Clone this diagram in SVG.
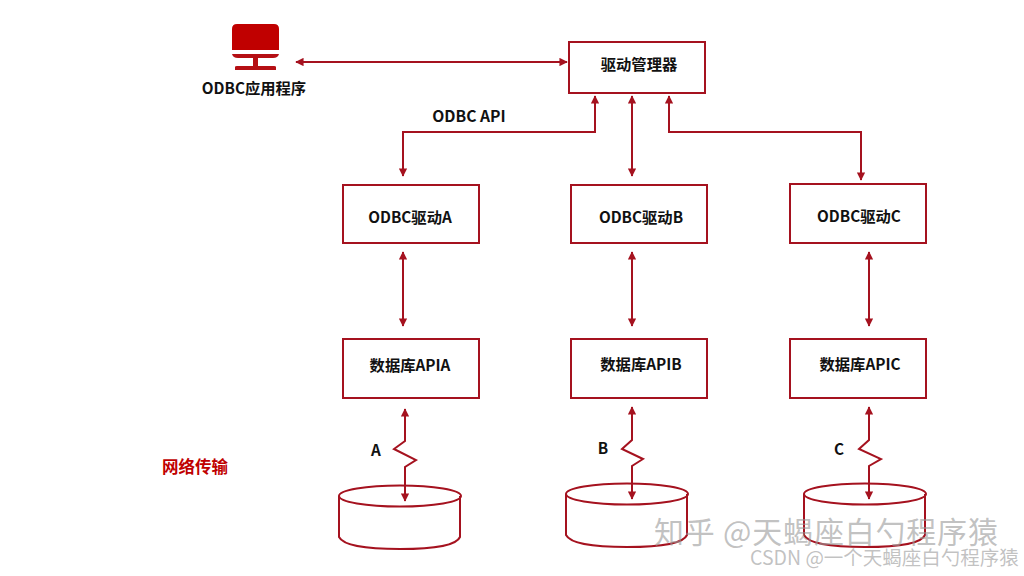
<svg xmlns="http://www.w3.org/2000/svg" width="1024" height="576" viewBox="0 0 1024 576">
<style>
text{font-family:"Noto Sans CJK SC","Open Sans","Noto Sans",sans-serif;font-weight:700;fill:#111;font-size:15.300px;text-anchor:middle}
.box{fill:#fff;stroke:#a5121f;stroke-width:2}
.c{fill:none;stroke:#a5121f;stroke-width:2;marker-start:url(#a);marker-end:url(#a)}
.d{fill:none;stroke:#a5121f;stroke-width:2}
.w{font-family:"Noto Sans CJK SC",sans-serif;font-weight:400;fill:#999;fill-opacity:.6;text-anchor:start}
</style>
<defs><marker id="a" viewBox="0 0 10 10" refX="9" refY="5" markerWidth="4.200" markerHeight="4.200" orient="auto-start-reverse"><path d="M0 0L10 5L0 10Z" fill="#a5121f"/></marker></defs>
<rect width="1024" height="576" fill="#fff"/>
<g id="app"><path d="M232 29Q232 24 237 24H274Q279 24 279 29V50H232Z" fill="#c00000"/><path d="M232 54H279Q278 58 273 58H238Q233 58 232 54ZM253 58H258V66H253ZM235 67Q235 66 237 66H274Q276 66 276 67V70H235Z" fill="#b50f14"/><text x="254" y="94">ODBC应用程序</text></g>
<g id="mgr"><rect class="box" x="569" y="42" width="136" height="51"/><text x="639" y="70">驱动管理器</text></g>
<g id="drvA"><rect class="box" x="343" y="185" width="136" height="58"/><text x="410" y="223">ODBC驱动A</text></g>
<g id="drvB"><rect class="box" x="571" y="185" width="136" height="58"/><text x="641" y="223">ODBC驱动B</text></g>
<g id="drvC"><rect class="box" x="790" y="184" width="136" height="59"/><text x="859" y="222">ODBC驱动C</text></g>
<g id="apiA"><rect class="box" x="343" y="339" width="136" height="59"/><text x="410" y="371">数据库APIA</text></g>
<g id="apiB"><rect class="box" x="571" y="339" width="136" height="59"/><text x="641" y="370">数据库APIB</text></g>
<g id="apiC"><rect class="box" x="790" y="339" width="136" height="59"/><text x="860" y="370">数据库APIC</text></g>
<g id="dbA"><path class="d" d="M339 496V537Q345 549 400 549Q455 549 460 537V496"/><ellipse class="d" cx="400" cy="496" rx="61" ry="10.500"/></g>
<g id="dbB"><path class="d" d="M566 494V535Q572 547 627 547Q682 547 687 535V494"/><ellipse class="d" cx="627" cy="494" rx="61" ry="10.500"/></g>
<g id="dbC"><path class="d" d="M804 494V535Q810 547 865 547Q920 547 925 535V494"/><ellipse class="d" cx="865" cy="494" rx="61" ry="10.500"/></g>
<g id="connectors">
<path class="c" d="M296 62H567"/>
<path class="c" d="M403 176V132H595V96"/>
<path class="c" d="M632 96V176"/>
<path class="c" d="M669 96V132H861V180"/>
<path class="c" d="M403 252V326"/>
<path class="c" d="M632 252V326"/>
<path class="c" d="M869 252V326"/>
<path class="c" d="M405 409V441L394 449L416 460L405 467V501"/>
<path class="c" d="M632 407V440L622 449L643 459L632 466V499"/>
<path class="c" d="M869 407V440L859 449L881 459L869 466V499"/>
</g>
<text x="469" y="122" style="font-size:15.700px">ODBC API</text>
<text x="376" y="456">A</text>
<text x="603" y="454">B</text>
<text x="839" y="455">C</text>
<text x="195" y="473" style="fill:#c00000;font-size:16.500px">网络传输</text>
<text class="w" x="654" y="543" style="font-size:30px;letter-spacing:.8px">知乎 @天蝎座白勺程序猿</text>
<text class="w" x="750" y="565" style="font-size:19.500px">CSDN @一个天蝎座白勺程序猿</text>
</svg>
